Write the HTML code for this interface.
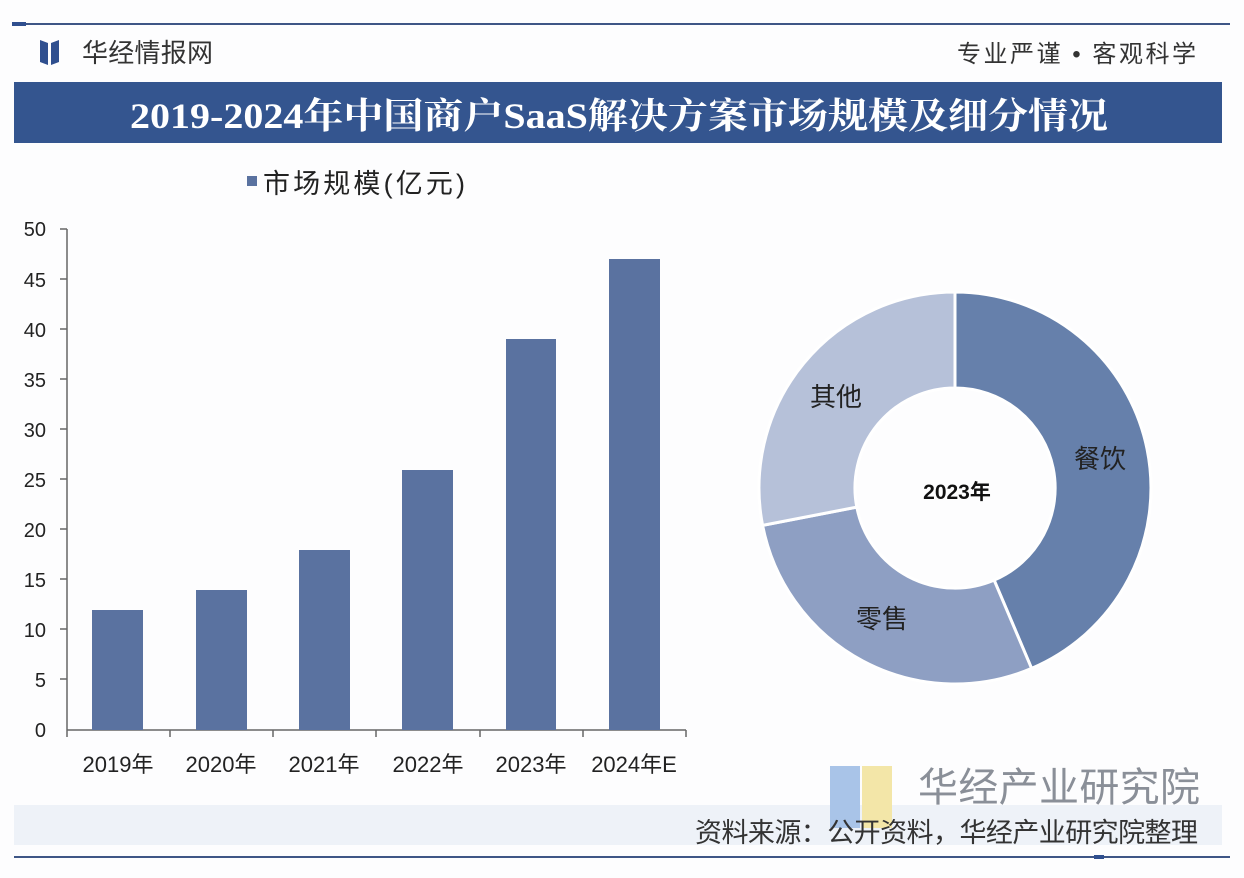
<!DOCTYPE html>
<html><head><meta charset="utf-8"><style>
body{margin:0;background:#fff;}
svg{display:block;font-family:"Liberation Sans","Noto Sans CJK SC",sans-serif;}
</style></head><body>
<svg width="1244" height="878" viewBox="0 0 1244 878">
<rect width="1244" height="878" fill="#fdfdfe"/>
<line x1="14" y1="24" x2="1230" y2="24" stroke="#3e5686" stroke-width="2"/>
<rect x="12" y="22" width="14" height="4" fill="#2f4f8f"/>
<path d="M40 40 L48 43 L48 65 L40 62Z M51 43 L59 40 L59 62 L51 65Z" fill="#2f4f8f"/>
<text x="82" y="62" font-size="26" fill="#333" textLength="131">华经情报网</text>
<text x="957" y="62" font-size="24" fill="#333" textLength="239">专业严谨 • 客观科学</text>
<rect x="14" y="82" width="1208" height="61" fill="#34558f"/>
<text x="130" y="128" font-size="36" font-weight="bold" fill="#fff" textLength="978" lengthAdjust="spacingAndGlyphs" font-family="'Liberation Serif','Noto Serif CJK SC',serif">2019-2024年中国商户SaaS解决方案市场规模及细分情况</text>
<rect x="247" y="176" width="10" height="10" fill="#5a72a0"/>
<text x="263" y="193" font-size="27" fill="#222" textLength="202">市场规模(亿元)</text>
<g font-size="20" fill="#222" text-anchor="end">
<text x="46" y="737">0</text><text x="46" y="687">5</text><text x="46" y="637">10</text><text x="46" y="587">15</text><text x="46" y="537">20</text><text x="46" y="487">25</text><text x="46" y="437">30</text><text x="46" y="387">35</text><text x="46" y="337">40</text><text x="46" y="287">45</text><text x="46" y="236">50</text>
</g>
<g stroke="#666" stroke-width="1.5">
<line x1="67" y1="229" x2="67" y2="730"/><line x1="67" y1="730" x2="686" y2="730"/>
<line x1="60" y1="229" x2="67" y2="229"/><line x1="60" y1="279" x2="67" y2="279"/><line x1="60" y1="329" x2="67" y2="329"/><line x1="60" y1="379" x2="67" y2="379"/><line x1="60" y1="429" x2="67" y2="429"/><line x1="60" y1="479" x2="67" y2="479"/><line x1="60" y1="529" x2="67" y2="529"/><line x1="60" y1="579" x2="67" y2="579"/><line x1="60" y1="629" x2="67" y2="629"/><line x1="60" y1="679" x2="67" y2="679"/>
<line x1="170" y1="730" x2="170" y2="737"/><line x1="273" y1="730" x2="273" y2="737"/><line x1="376" y1="730" x2="376" y2="737"/><line x1="480" y1="730" x2="480" y2="737"/><line x1="583" y1="730" x2="583" y2="737"/><line x1="686" y1="730" x2="686" y2="737"/><line x1="67" y1="730" x2="67" y2="737"/>
</g>
<g fill="#5a72a0">
<rect x="92" y="610" width="51" height="120"/>
<rect x="196" y="590" width="51" height="140"/>
<rect x="299" y="550" width="51" height="180"/>
<rect x="402" y="470" width="51" height="260"/>
<rect x="506" y="339" width="50" height="391"/>
<rect x="609" y="259" width="51" height="471"/>
</g>
<g font-size="22" fill="#222" text-anchor="middle">
<text x="118" y="772">2019年</text><text x="221" y="772">2020年</text><text x="324" y="772">2021年</text><text x="428" y="772">2022年</text><text x="531" y="772">2023年</text><text x="634" y="772">2024年E</text>
</g>
<g stroke="#fff" stroke-width="3">
<path d="M955 292 A196 196 0 0 1 1031.6 668.4 L994.1 580.1 A100 100 0 0 0 955 388Z" fill="#6680ab"/>
<path d="M1031.6 668.4 A196 196 0 0 1 762.6 525.4 L856.8 507.1 A100 100 0 0 0 994.1 580.1Z" fill="#8e9fc3"/>
<path d="M762.6 525.4 A196 196 0 0 1 955 292 L955 388 A100 100 0 0 0 856.8 507.1Z" fill="#b6c1d9"/>
</g>
<text x="1100" y="468" font-size="26" fill="#222" text-anchor="middle">餐饮</text>
<text x="882" y="628" font-size="26" fill="#222" text-anchor="middle">零售</text>
<text x="836" y="406" font-size="26" fill="#222" text-anchor="middle">其他</text>
<text x="957" y="499" font-size="21" font-weight="bold" fill="#111" text-anchor="middle">2023年</text>
<rect x="14" y="805" width="1208" height="40" fill="#eef2f8"/>
<rect x="830" y="766" width="30" height="62" fill="#a9c4e8"/>
<rect x="862" y="766" width="30" height="62" fill="#f3e6a8"/>
<text x="918" y="801" font-size="40" fill="#8a8f98" textLength="282">华经产业研究院</text>
<text x="695" y="842" font-size="27" fill="#333" textLength="503">资料来源：公开资料，华经产业研究院整理</text>
<line x1="14" y1="857" x2="1230" y2="857" stroke="#3e5686" stroke-width="2"/>
<rect x="1094" y="855" width="10" height="4" fill="#2f4f8f"/>
</svg>
</body></html>
